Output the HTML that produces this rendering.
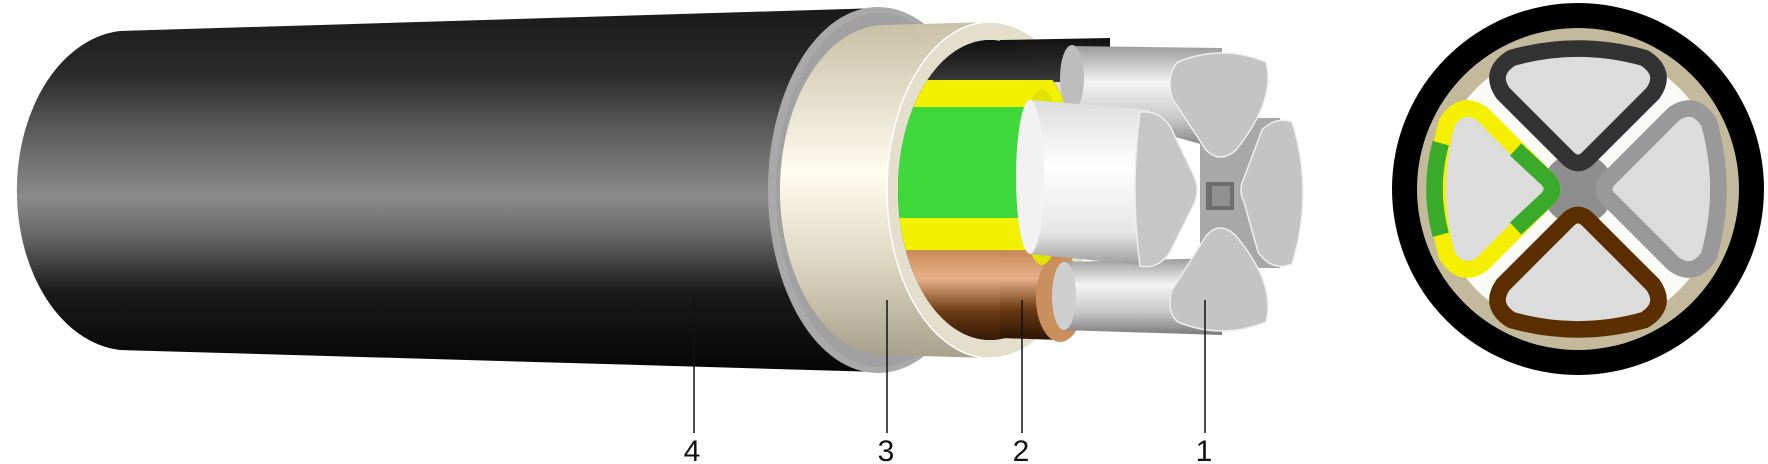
<!DOCTYPE html>
<html><head><meta charset="utf-8"><style>
html,body{margin:0;padding:0;background:#fff;}
svg{display:block;}
text{font-family:"Liberation Sans",Arial,sans-serif;font-size:30px;fill:#111;}
</style></head><body>
<svg width="1768" height="464" viewBox="0 0 1768 464" xmlns="http://www.w3.org/2000/svg">
<defs>
<linearGradient id="jk" x1="0" y1="0" x2="0" y2="1">
<stop offset="0" stop-color="#1a1a1a"/><stop offset="0.18" stop-color="#2a2a2a"/>
<stop offset="0.4" stop-color="#6e6e6e"/><stop offset="0.52" stop-color="#8a8a8a"/>
<stop offset="0.62" stop-color="#6a6a6a"/><stop offset="0.78" stop-color="#1a1a1a"/>
<stop offset="1" stop-color="#050505"/></linearGradient>
<linearGradient id="cr" x1="0" y1="0" x2="0" y2="1">
<stop offset="0" stop-color="#c9c1a6"/><stop offset="0.45" stop-color="#fffdf0"/>
<stop offset="0.75" stop-color="#d8d2bc"/><stop offset="1" stop-color="#a8a28c"/></linearGradient>
<linearGradient id="gy" x1="0" y1="0" x2="0" y2="1">
<stop offset="0" stop-color="#9a9a9a"/><stop offset="0.35" stop-color="#f4f4f4"/>
<stop offset="0.7" stop-color="#c8c8c8"/><stop offset="1" stop-color="#7a7a7a"/></linearGradient>
<linearGradient id="wh" x1="0" y1="0" x2="0" y2="1">
<stop offset="0" stop-color="#dcdcdc"/><stop offset="0.4" stop-color="#ffffff"/>
<stop offset="0.8" stop-color="#e6e6e6"/><stop offset="1" stop-color="#9a9a9a"/></linearGradient>
<linearGradient id="br" x1="0" y1="0" x2="0" y2="1">
<stop offset="0" stop-color="#c98a5a"/><stop offset="0.3" stop-color="#e8b088"/>
<stop offset="0.65" stop-color="#6a3a12"/><stop offset="1" stop-color="#2a1505"/></linearGradient>
<linearGradient id="bk" x1="0" y1="0" x2="0" y2="1">
<stop offset="0" stop-color="#111"/><stop offset="1" stop-color="#3a3a3a"/></linearGradient>
<clipPath id="inner"><ellipse cx="990" cy="190" rx="92" ry="150"/></clipPath>
</defs>

<!-- jacket -->
<path d="M120 31 L880 8 L880 372 L120 350 A112 160 0 0 1 120 31 Z" fill="url(#jk)"/>
<ellipse cx="878" cy="190" rx="110" ry="183" fill="#a9a9a9"/>
<ellipse cx="880" cy="190" rx="104" ry="177" fill="#8f8f8f" opacity="0.3"/>
<!-- cream filler -->
<path d="M885 25 L990 22 L990 358 L885 355 Z" fill="url(#cr)"/>
<ellipse cx="885" cy="190" rx="105" ry="165" fill="url(#cr)"/>
<ellipse cx="990" cy="190" rx="103" ry="168" fill="#e4dfcc"/>
<ellipse cx="990" cy="190" rx="103" ry="168" fill="none" stroke="#fff" stroke-width="1.5"/>
<ellipse cx="990" cy="190" rx="92" ry="150" fill="#1a1a1a"/>

<path d="M1000 40 L1110 38 L1110 82 L1000 82 Z" fill="url(#bk)"/>
<g clip-path="url(#inner)">
 <rect x="880" y="40" width="220" height="42" fill="url(#bk)"/>
 <rect x="880" y="80" width="200" height="28" fill="#f2f200"/>
 <rect x="880" y="107" width="200" height="112" fill="#3fd83a"/>
 <rect x="880" y="218" width="200" height="34" fill="#f2f200"/>
 <rect x="880" y="250" width="200" height="95" fill="url(#br)"/>
</g>
<path d="M1000 252 L1060 255 L1060 340 L1000 338 Z" fill="url(#br)"/>
<ellipse cx="1060" cy="298" rx="24" ry="44" fill="#c9905e"/>
<path d="M1072 46 L1222 48 L1222 150 L1072 108 Z" fill="url(#gy)"/>
<ellipse cx="1072" cy="78" rx="12" ry="33" fill="#bdbdbd"/>
<rect x="1200" y="118" width="80" height="150" fill="#a8a8a8"/>
<ellipse cx="1042" cy="177" rx="22" ry="88" fill="#e2e200"/>
<ellipse cx="1046" cy="177" rx="14" ry="66" fill="#2a9a28"/>
<path d="M1062 262 L1222 258 L1222 335 L1062 330 Z" fill="url(#gy)"/>
<ellipse cx="1064" cy="296" rx="12" ry="34" fill="#cfcfcf"/>
<path d="M1030 100 L1150 110 L1150 266 L1030 254 Z" fill="url(#wh)"/>
<ellipse cx="1030" cy="177" rx="14" ry="77" fill="#f2f2f2"/>

<rect x="1206" y="182" width="28" height="28" fill="#6e6e6e"/>
<rect x="1212" y="186" width="18" height="20" fill="#909090"/>
<path d="M1178 62 Q1222 44 1266 62 Q1276 100 1236 150 Q1220 164 1206 150 L1172 98 Q1166 74 1178 62 Z" fill="#c4c4c4" stroke="#eee" stroke-width="1.5"/>
<path d="M1292 122 Q1314 192 1292 264 Q1272 272 1258 252 L1244 202 Q1238 190 1244 178 L1262 130 Q1276 116 1292 122 Z" fill="#c4c4c4" stroke="#eee" stroke-width="1.5"/>
<path d="M1178 322 Q1222 340 1266 322 Q1276 284 1236 236 Q1220 220 1206 236 L1172 290 Q1166 312 1178 322 Z" fill="#c4c4c4" stroke="#eee" stroke-width="1.5"/>
<path d="M1140 112 Q1130 190 1140 266 Q1158 270 1170 252 L1194 204 Q1200 190 1194 176 L1170 126 Q1158 110 1140 112 Z" fill="#c6c6c6" stroke="#eee" stroke-width="1.5"/>

<g stroke="#111" stroke-width="1.5">
<line x1="694" y1="300" x2="694" y2="433"/>
<line x1="887" y1="300" x2="887" y2="433"/>
<line x1="1022" y1="300" x2="1022" y2="433"/>
<line x1="1205" y1="300" x2="1205" y2="433"/>
</g>
<text x="692" y="461" text-anchor="middle">4</text>
<text x="886" y="461" text-anchor="middle">3</text>
<text x="1021" y="461" text-anchor="middle">2</text>
<text x="1204" y="461" text-anchor="middle">1</text>

<g transform="translate(1578,189)">
<circle r="186" fill="#000"/>
<circle r="161" fill="#c3b99c"/>
<circle r="143" fill="#fbfbf8"/>
<circle r="36" fill="#8e8e8e"/>
<g transform="scale(1.04)" stroke-width="16" stroke-linejoin="round" fill="#dcdcdc">
 <path d="M-10 -30 Q0 -20 10 -30 L72 -92 Q86 -112 64 -126 Q0 -144 -64 -126 Q-86 -112 -72 -92 Z" stroke="#333"/>
 <path transform="rotate(90)" d="M-10 -30 Q0 -20 10 -30 L72 -92 Q86 -112 64 -126 Q0 -144 -64 -126 Q-86 -112 -72 -92 Z" stroke="#999"/>
 <path transform="rotate(180)" d="M-10 -30 Q0 -20 10 -30 L72 -92 Q86 -112 64 -126 Q0 -144 -64 -126 Q-86 -112 -72 -92 Z" stroke="#5a2e00"/>
 <g transform="rotate(-90)">
  <path d="M-10 -30 Q0 -20 10 -30 L72 -92 Q86 -112 64 -126 Q0 -144 -64 -126 Q-86 -112 -72 -92 Z" stroke="#f4f000"/>
  <path d="M44 -132 Q0 -144 -44 -132" stroke="#3aaa2a" fill="none" stroke-linejoin="miter"/>
  <path d="M-38 -60 L-10 -30 Q0 -20 10 -30 L38 -60" stroke="#3aaa2a" fill="none"/>
 </g>
</g>
</g>
</svg>
</body></html>
